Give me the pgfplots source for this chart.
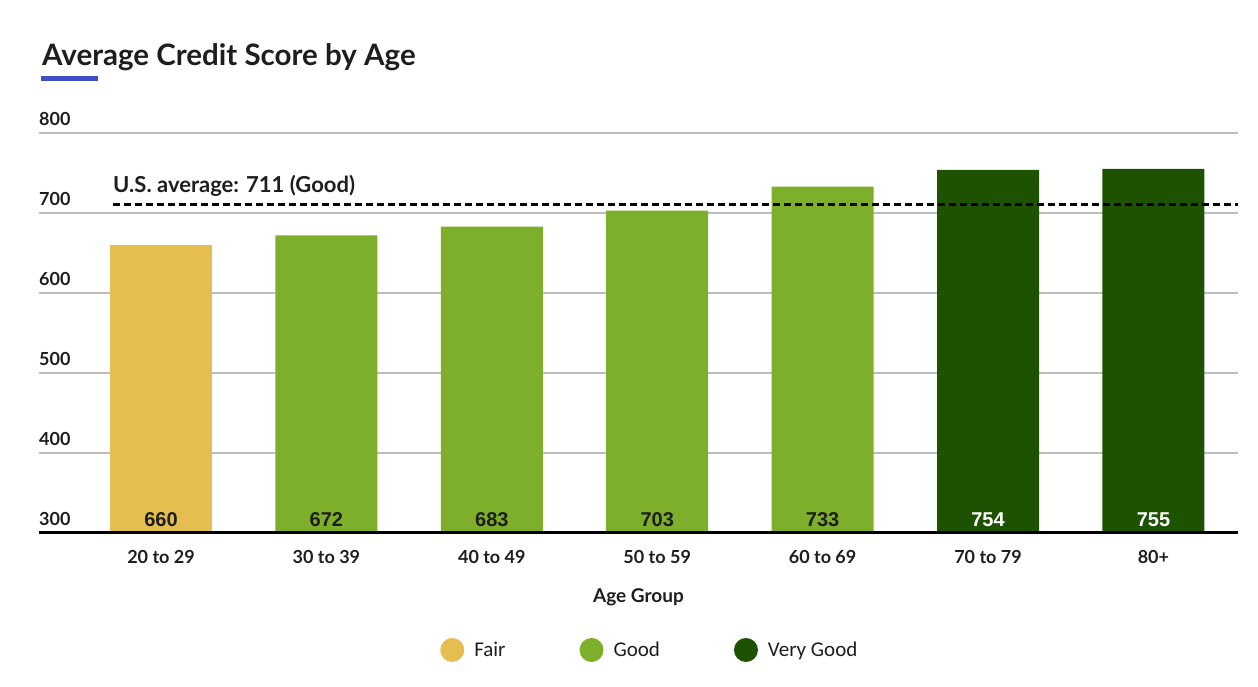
\documentclass[border=0pt]{standalone}
\usepackage{fontspec}
\setmainfont{Lato}
\newfontfamily\arialf{Liberation Sans}
\newfontfamily\calib{Carlito}
\usepackage{pgfplots}
\pgfplotsset{compat=1.18}
\definecolor{fair}{HTML}{E5BE50}
\definecolor{good}{HTML}{7EAF2A}
\definecolor{verygood}{HTML}{1C5200}
\definecolor{gridgray}{HTML}{BDBDBD}
\definecolor{blueline}{HTML}{3D4FC6}
\definecolor{txt}{HTML}{1E1E1E}
\tikzset{vallab/.style={anchor=base, inner sep=0pt, font=\arialf\bfseries\fontsize{20}{20}\selectfont, text=txt, yshift=6pt}}
\begin{document}
\begin{tikzpicture}
\path[use as bounding box] (0,0) rectangle (1258pt,687pt);
\node[anchor=base west, inner sep=0pt, font=\fontsize{29.5}{29.5}\selectfont\bfseries, text=txt] at (42pt,621pt) {Average Credit Score by Age};
\fill[blueline] (41pt,606.3pt) rectangle (98pt,611.3pt);
\begin{axis}[
  at={(39pt,154pt)}, anchor=south west,
  scale only axis, width=1199pt, height=400pt,
  xmin=-0.7376, xmax=6.511, ymin=300, ymax=800,
  ytick={300,400,...,800},
  xtick={0,...,6},
  xticklabels={20 to 29, 30 to 39, 40 to 49, 50 to 59, 60 to 69, 70 to 79, 80+},
  /pgf/number format/assume math mode=true,
  major tick length=0pt,
  axis line style={draw=none},
  ymajorgrids, grid style={color=gridgray, line width=1.3pt},
  yticklabel style={anchor=south west, inner sep=0pt, yshift=7pt, font=\fontsize{18}{18}\selectfont\bfseries, text=txt},
  xticklabel style={anchor=north, inner sep=0pt, yshift=-17pt, font=\fontsize{18}{18}\selectfont\bfseries, text=txt},
  xlabel={Age Group},
  xlabel style={at={(axis description cs:0.5,-0.175)}, anchor=base, inner sep=0pt, font=\fontsize{19}{19}\selectfont\bfseries, text=txt},
  ybar, bar width=102pt, bar shift=0pt,
  clip=false,
  legend columns=3,
  legend style={at={(axis description cs:0.3345,-0.2925)}, anchor=west, draw=none, fill=none, inner sep=0pt,
    font=\calib\fontsize{21}{21}\selectfont, text=txt,
    /tikz/every odd column/.append style={column sep=8pt},
    /tikz/every even column/.append style={column sep=72pt}},
]
\addplot[fill=fair, draw=none, legend image code/.code={\fill[fair] (12pt,0pt) circle (12pt);}] coordinates {(0,660)};
\addlegendentry{Fair}
\addplot[fill=good, draw=none, legend image code/.code={\fill[good] (12pt,0pt) circle (12pt);}] coordinates {(1,672) (2,683) (3,703) (4,733)};
\addlegendentry{Good}
\addplot[fill=verygood, draw=none, legend image code/.code={\fill[verygood] (12pt,0pt) circle (12pt);}] coordinates {(5,754) (6,755)};
\addlegendentry{Very Good}
\addplot[sharp plot, no marks, black, line width=3pt, dash pattern=on 7pt off 4pt, forget plot] coordinates {(-0.29,711) (6.511,711)};
\node[anchor=base west, inner sep=0pt, font=\fontsize{22}{22}\selectfont\bfseries, text=txt] at (axis cs:-0.29,711) [yshift=12pt] {U.S. average: 711 (Good)};
\draw[black, line width=3pt] (rel axis cs:0,0) -- (rel axis cs:1,0);
\node[vallab] at (axis cs:0,300) {660};
\node[vallab] at (axis cs:1,300) {672};
\node[vallab] at (axis cs:2,300) {683};
\node[vallab] at (axis cs:3,300) {703};
\node[vallab] at (axis cs:4,300) {733};
\node[vallab, text=white] at (axis cs:5,300) {754};
\node[vallab, text=white] at (axis cs:6,300) {755};
\end{axis}
\end{tikzpicture}
\end{document}
